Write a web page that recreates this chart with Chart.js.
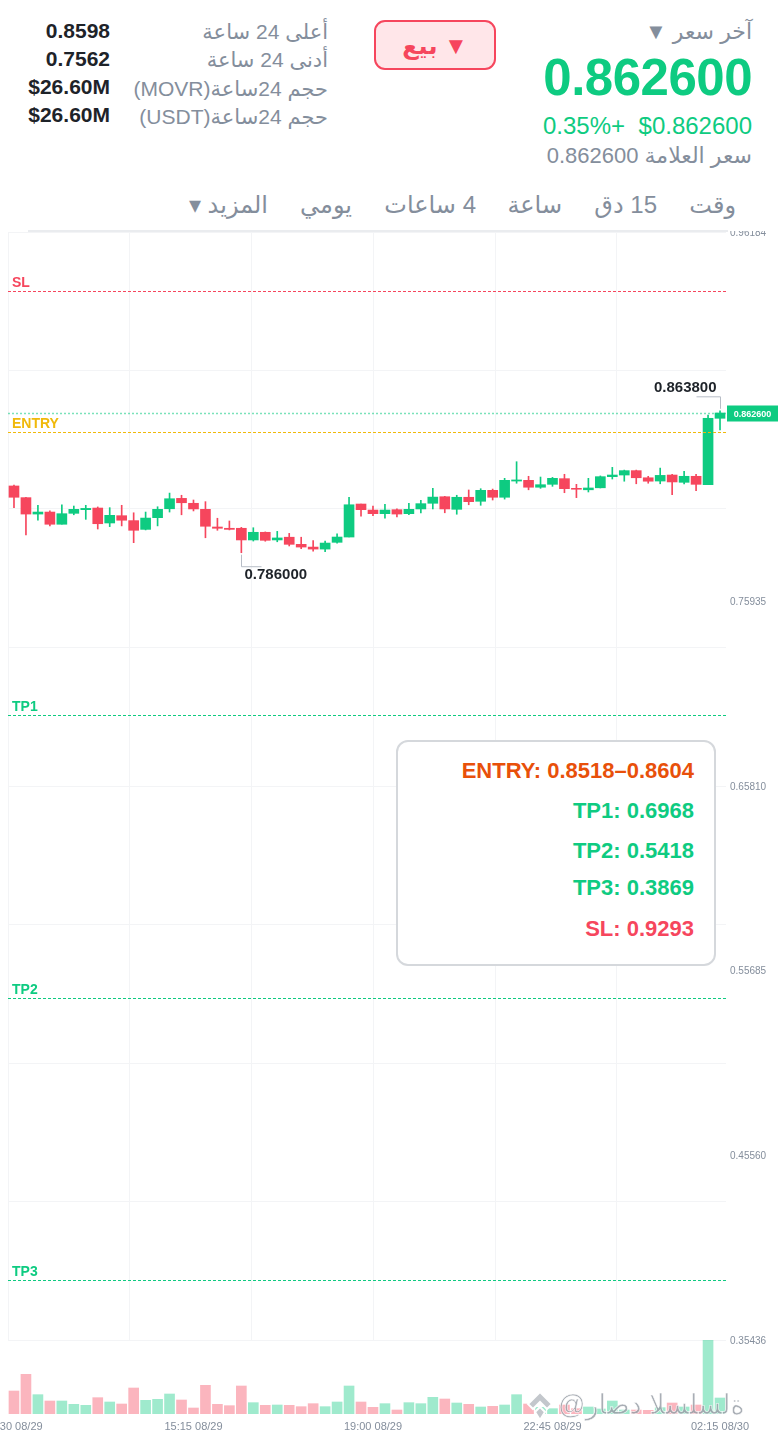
<!DOCTYPE html>
<html lang="ar">
<head>
<meta charset="utf-8">
<title>MOVR</title>
<script src="https://cdn.jsdelivr.net/npm/chart.js@4"></script>
<style>
  html, body { margin: 0; padding: 0; background: #fff; }
  body { position: relative; width: 780px; height: 1432px; overflow: hidden; font-family: "Liberation Sans", "Noto Sans", "DejaVu Sans", sans-serif; }
  .t { position: absolute; white-space: nowrap; transform: translateY(-50%); line-height: 1.2; }
  .r { direction: rtl; }
  .g { color: #848e9c; }
  .v { color: #1e2329; font-weight: 700; font-size: 21px; right: 670px; }
  .l { color: #848e9c; font-size: 21px; right: 452px; direction: rtl; }
  .tab { color: #848e9c; font-size: 24px; top: 205px; direction: rtl; }
  canvas { position: absolute; left: 0; }
  #btn { position: absolute; left: 374px; top: 20px; width: 118px; height: 46px; border: 2px solid #f6465d; border-radius: 11px; background: #ffe6e9; color: #f6465d; font-weight: 700; font-size: 24px; text-align: center; line-height: 47px; direction: rtl; }
  #rule { position: absolute; left: 28px; top: 230px; width: 700px; height: 2px; background: #eaecef; }
  #card { position: absolute; left: 396px; top: 740px; width: 316px; height: 222px; border: 2px solid #d5d8dc; border-radius: 12px; background: #fff; z-index: 2; }
  .c { font-weight: 700; font-size: 22px; right: 86px; z-index: 3; }
  #mark { position: absolute; left: 558px; top: 1389px; z-index: 4; font-size: 27px; color: #9aa0a8; -webkit-text-stroke: 0.6px #fff; opacity: .85; letter-spacing: 7.5px; unicode-bidi: bidi-override; direction: ltr; white-space: nowrap; }
  #logo { position: absolute; left: 525px; top: 1390px; z-index: 4; }
</style>
</head>
<body>
<div class="t g r" style="right:28px;top:32px;font-size:22px">آخر سعر ▼</div>
<div class="t" style="right:28px;top:78px;font-size:51px;font-weight:700;color:#0ecb81;letter-spacing:-0.5px">0.862600</div>
<div class="t" style="right:28px;top:126px;font-size:24px;color:#0ecb81">$0.862600</div>
<div class="t" style="left:543px;top:126px;font-size:24px;color:#0ecb81" dir="ltr">0.35%+</div>
<div class="t g r" style="right:28px;top:156px;font-size:22px">سعر العلامة 0.862600</div>

<div id="btn">▼ بيع</div>

<div class="t l" style="top:32px">أعلى 24 ساعة</div>
<div class="t l" style="top:60px">أدنى 24 ساعة</div>
<div class="t l" style="top:89px">حجم 24ساعة(MOVR)</div>
<div class="t l" style="top:117px">حجم 24ساعة(USDT)</div>
<div class="t v" style="top:31px">0.8598</div>
<div class="t v" style="top:59px">0.7562</div>
<div class="t v" style="top:87px">$26.60M</div>
<div class="t v" style="top:115px">$26.60M</div>

<div class="t tab" style="right:44px">وقت</div>
<div class="t tab" style="right:123px">15 دق</div>
<div class="t tab" style="right:218px">ساعة</div>
<div class="t tab" style="right:304px">4 ساعات</div>
<div class="t tab" style="right:428px">يومي</div>
<div class="t tab" style="right:512px">المزيد ▾</div>
<div id="rule"></div>

<canvas id="priceChart" width="780" height="1125" style="top:231px"></canvas>
<canvas id="volumeChart" width="780" height="92" style="top:1340px"></canvas>

<div id="card"></div>
<div class="t c" style="top:771px;color:#e8500a">ENTRY: 0.8518–0.8604</div>
<div class="t c" style="top:811px;color:#0ecb81">TP1: 0.6968</div>
<div class="t c" style="top:851px;color:#0ecb81">TP2: 0.5418</div>
<div class="t c" style="top:888px;color:#0ecb81">TP3: 0.3869</div>
<div class="t c" style="top:929px;color:#f6465d">SL: 0.9293</div>

<svg id="logo" width="30" height="32" viewBox="0 0 30 32">
  <path d="M15 2 L27 14 L22 19 L15 12 L8 19 L3 14 Z M15 17 L20 22 L15 30 L10 22 Z" fill="#c3c7cc" stroke="#fff" stroke-width="2"/>
</svg>
<div id="mark">@راصد السلسلة</div>

<script>
// 15 minute candles
const categories = [
  '11:30 08/29','11:45 08/29','12:00 08/29','12:15 08/29','12:30 08/29','12:45 08/29','13:00 08/29','13:15 08/29','13:30 08/29','13:45 08/29',
  '14:00 08/29','14:15 08/29','14:30 08/29','14:45 08/29','15:00 08/29','15:15 08/29','15:30 08/29','15:45 08/29','16:00 08/29','16:15 08/29',
  '16:30 08/29','16:45 08/29','17:00 08/29','17:15 08/29','17:30 08/29','17:45 08/29','18:00 08/29','18:15 08/29','18:30 08/29','18:45 08/29',
  '19:00 08/29','19:15 08/29','19:30 08/29','19:45 08/29','20:00 08/29','20:15 08/29','20:30 08/29','20:45 08/29','21:00 08/29','21:15 08/29',
  '21:30 08/29','21:45 08/29','22:00 08/29','22:15 08/29','22:30 08/29','22:45 08/29','23:00 08/29','23:15 08/29','23:30 08/29','23:45 08/29',
  '00:00 08/30','00:15 08/30','00:30 08/30','00:45 08/30','01:00 08/30','01:15 08/30','01:30 08/30','01:45 08/30','02:00 08/30','02:15 08/30'
];
const opens = [
  .8226,.8162,.8072,.8083,.8016,.8076,.8096,.8105,.8023,.8063,
  .8036,.7988,.8052,.8101,.8158,.8131,.8098,.8001,.7994,.7994,
  .7930,.7972,.7930,.7945,.7906,.7891,.7880,.7917,.7946,.8127,
  .8094,.8074,.8096,.8074,.8100,.8131,.8167,.8098,.8164,.8142,
  .8202,.8164,.8253,.8257,.8219,.8235,.8266,.8213,.8205,.8216,
  .8277,.8286,.8310,.8271,.8253,.8286,.8246,.8279,.8233,.8597
];
const highs = [
  .8231,.8164,.8120,.8089,.8122,.8116,.8120,.8111,.8107,.8120,
  .8079,.8083,.8112,.8187,.8175,.8149,.8140,.8049,.8034,.7999,
  .7997,.7974,.7977,.7966,.7945,.7926,.7924,.7964,.8164,.8127,
  .8116,.8125,.8100,.8131,.8147,.8213,.8169,.8175,.8204,.8211,
  .8209,.8268,.8359,.8279,.8275,.8273,.8290,.8235,.8268,.8281,
  .8328,.8313,.8313,.8279,.8324,.8290,.8306,.8290,.8615,.8638
];
const lows = [
  .8107,.7957,.8038,.8007,.8016,.8068,.8043,.7990,.8003,.8007,
  .7915,.7985,.8007,.8083,.8068,.8089,.7942,.7983,.7985,.7860,
  .7924,.7923,.7920,.7897,.7882,.7868,.7866,.7913,.7946,.8061,
  .8063,.8050,.8056,.8068,.8078,.8100,.8079,.8071,.8123,.8120,
  .8149,.8154,.8241,.8205,.8213,.8224,.8189,.8162,.8193,.8215,
  .8264,.8252,.8238,.8241,.8238,.8178,.8237,.8200,.8233,.8533
];
const closes = [
  .8164,.8072,.8083,.8016,.8074,.8098,.8103,.8019,.8065,.8038,
  .7983,.8050,.8098,.8156,.8134,.8100,.8005,.7994,.7988,.7930,
  .7972,.7928,.7941,.7906,.7891,.7880,.7913,.7946,.8123,.8096,
  .8074,.8094,.8072,.8098,.8129,.8165,.8100,.8164,.8140,.8202,
  .8164,.8257,.8259,.8219,.8233,.8268,.8211,.8208,.8215,.8277,
  .8286,.8310,.8271,.8252,.8284,.8248,.8279,.8235,.8597,.8626
];
const volumes = [
  69,119,58,39,39,29,26,49,36,30,
  78,41,44,60,42,18,86,29,25,84,
  34,26,27,26,22,31,22,36,84,36,
  20,31,12,34,31,50,45,33,29,21,
  23,27,58,30,20,16,27,16,21,15,
  39,12,12,11,19,33,21,27,222,48
];
const xTickLabels = ['11:30 08/29','15:15 08/29','19:00 08/29','22:45 08/29','02:15 08/30'];
const priceTickLabels = [0.96184,0.75935,0.65810,0.55685,0.45560,0.35436];
const priceGridValues = [0.96184,0.88591,0.80998,0.73404,0.65810,0.58217,0.50623,0.43030,0.35436];
const levelNames = ['SL','ENTRY','TP1','TP2','TP3'];
const levelValues = [0.9293,0.8518,0.6968,0.5418,0.3869];
const levelColors = ['#f6465d','#f0b90b','#0ecb81','#0ecb81','#0ecb81'];
const lastPrice = 0.8626;

const UP = '#0ecb81', DOWN = '#f6465d';
const FONT = '"Liberation Sans", "Noto Sans", sans-serif';
const isUp = i => closes[i] >= opens[i];
const candleColor = ctx => isUp(ctx.dataIndex) ? UP : DOWN;
const volumeColor = ctx => isUp(ctx.dataIndex) ? 'rgba(14,203,129,0.4)' : 'rgba(246,70,93,0.4)';

// dashed price levels, last price tag and the high/low callouts
const overlay = {
  id: 'overlay',
  afterDatasetsDraw(chart) {
    const { ctx, chartArea: area, scales: { x, y } } = chart;
    ctx.save();
    levelValues.forEach((v, i) => {
      const py = Math.floor(y.getPixelForValue(v)) + 0.5;
      ctx.strokeStyle = levelColors[i];
      ctx.setLineDash([3, 2]);
      ctx.beginPath(); ctx.moveTo(area.left, py); ctx.lineTo(area.right, py); ctx.stroke();
      ctx.fillStyle = levelColors[i];
      ctx.font = '700 14px ' + FONT;
      ctx.textAlign = 'left';
      ctx.textBaseline = 'alphabetic';
      ctx.fillText(levelNames[i], area.left + 4, py - 5);
    });

    const ly = Math.floor(y.getPixelForValue(lastPrice)) + 0.5;
    ctx.strokeStyle = 'rgba(14,203,129,0.55)';
    ctx.lineWidth = 1.5;
    ctx.setLineDash([2, 2]);
    ctx.beginPath(); ctx.moveTo(area.left, ly); ctx.lineTo(area.right, ly); ctx.stroke();
    ctx.setLineDash([]);
    ctx.fillStyle = UP;
    ctx.fillRect(area.right + 1, ly - 8, 51, 16);
    ctx.fillStyle = '#fff';
    ctx.font = '700 9px ' + FONT;
    ctx.textAlign = 'center';
    ctx.textBaseline = 'middle';
    ctx.fillText(lastPrice.toFixed(6), area.right + 26.5, ly + 1);

    const hiIdx = highs.indexOf(Math.max(...highs));
    const loIdx = lows.indexOf(Math.min(...lows));
    ctx.strokeStyle = '#b7bdc6';
    ctx.lineWidth = 1;
    const hx = Math.round(x.getPixelForValue(hiIdx)) + 0.5, hy = y.getPixelForValue(highs[hiIdx]);
    ctx.beginPath(); ctx.moveTo(hx, hy - 2); ctx.lineTo(hx, hy - 14); ctx.lineTo(hx - 24, hy - 14); ctx.stroke();
    const lx = Math.round(x.getPixelForValue(loIdx)) + 0.5, ly2 = y.getPixelForValue(lows[loIdx]);
    ctx.beginPath(); ctx.moveTo(lx, ly2 + 2); ctx.lineTo(lx, ly2 + 14); ctx.lineTo(lx + 20, ly2 + 14); ctx.stroke();
    ctx.fillStyle = '#1e2329';
    ctx.font = '700 15px ' + FONT;
    ctx.textBaseline = 'middle';
    ctx.textAlign = 'right';
    ctx.fillText(highs[hiIdx].toFixed(6), hx - 4, hy - 23);
    ctx.textAlign = 'left';
    ctx.fillText(lows[loIdx].toFixed(6), lx + 3, ly2 + 22);
    ctx.restore();
  }
};

new Chart(document.getElementById('priceChart'), {
  type: 'bar',
  plugins: [overlay],
  data: {
    labels: categories,
    datasets: [
      { label: 'wick', data: categories.map((_, i) => [lows[i], highs[i]]), backgroundColor: candleColor, barThickness: 1, grouped: false, order: 2 },
      { label: 'body', data: categories.map((_, i) => [opens[i], closes[i]]), backgroundColor: candleColor, barThickness: 10, grouped: false, order: 1 }
    ]
  },
  options: {
    responsive: false,
    animation: false,
    layout: { padding: { top: 1, left: 8, bottom: 16, right: 0 } },
    plugins: { legend: { display: false }, tooltip: { enabled: false } },
    scales: {
      x: { display: false, offset: true },
      xGrid: {
        type: 'linear', position: 'top', min: 0, max: 5.895, offset: false,
        afterFit(scale) { scale.height = 0; },
        grid: { color: '#f3f4f6', drawTicks: false, offset: false },
        border: { display: false },
        ticks: { display: false, stepSize: 1, includeBounds: false }
      },
      y: {
        position: 'right', min: 0.35436, max: 0.96184,
        afterBuildTicks(scale) {
          const all = [...new Set([...priceGridValues, ...priceTickLabels])];
          scale.ticks = all.map(value => ({ value }));
        },
        afterFit(scale) { scale.width = 54; scale.paddingTop = 0; scale.paddingBottom = 0; },
        border: { display: false },
        grid: {
          drawTicks: false,
          color: ctx => priceGridValues.includes(ctx.tick && ctx.tick.value) ? '#f3f4f6' : 'transparent'
        },
        ticks: {
          autoSkip: false, padding: 4, labelOffset: 1, color: '#848e9c',
          font: { size: 10, family: FONT },
          callback: v => priceTickLabels.includes(v) ? v.toFixed(5) : ''
        }
      }
    }
  }
});

new Chart(document.getElementById('volumeChart'), {
  type: 'bar',
  data: {
    labels: categories,
    datasets: [{ label: 'volume', data: volumes, backgroundColor: volumeColor, barThickness: 10 }]
  },
  options: {
    responsive: false,
    animation: false,
    layout: { padding: { top: 0, left: 8, right: 54, bottom: 0 } },
    plugins: { legend: { display: false }, tooltip: { enabled: false } },
    scales: {
      x: {
        offset: true,
        afterFit(scale) { scale.height = 18; scale.paddingLeft = 0; scale.paddingRight = 0; },
        grid: { display: false, drawTicks: false, tickLength: 0 },
        border: { display: false },
        ticks: {
          autoSkip: false, maxRotation: 0, padding: 6, color: '#848e9c',
          font: { size: 11, family: FONT },
          callback(v) { const s = this.getLabelForValue(v); return xTickLabels.includes(s) ? s : ''; }
        }
      },
      y: { display: false, min: 0, max: 222 }
    }
  }
});
</script>
</body>
</html>
